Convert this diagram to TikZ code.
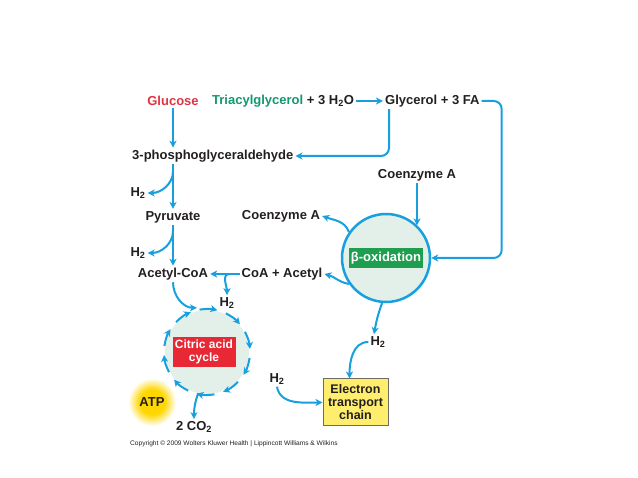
\documentclass[tikz,border=0pt]{standalone}
\usepackage{fontspec}
\setmainfont{Liberation Sans}
\usetikzlibrary{arrows.meta,positioning,calc}

\definecolor{flowcyan}{RGB}{24,160,222}
\definecolor{labelgray}{RGB}{35,31,32}
\definecolor{glured}{RGB}{222,52,68}
\definecolor{taggreen}{RGB}{18,152,112}
\definecolor{poolfill}{RGB}{226,240,233}
\definecolor{boxgreen}{RGB}{30,158,78}
\definecolor{boxred}{RGB}{232,40,52}
\definecolor{etcyellow}{RGB}{255,238,110}
\definecolor{etcborder}{RGB}{110,108,95}
\definecolor{atpyellow}{RGB}{255,215,0}

\pgfdeclareradialshading{sunglow}{\pgfpoint{0bp}{0bp}}{color(0bp)=(atpyellow); color(13bp)=(atpyellow); color(25bp)=(white); color(50bp)=(white)}

\begin{document}
\begin{tikzpicture}[
  x=1pt, y=1pt,
  >={Stealth[length=7pt,width=7pt,inset=2pt]},
  every node/.style={font=\bfseries\fontsize{13}{13.5}\selectfont, text=labelgray, inner sep=2pt},
  flow/.style={draw=flowcyan, line width=2pt, ->},
  pool/.style={circle, fill=poolfill, minimum size=88pt, inner sep=0pt},
  greenbox/.style={fill=boxgreen, text=white, minimum width=68pt, minimum height=20pt},
  redbox/.style={fill=boxred, text=white, align=center, minimum width=63pt, minimum height=30pt,
    font=\bfseries\fontsize{12}{13}\selectfont},
  etcbox/.style={draw=etcborder, line width=1pt, fill=etcyellow, align=center, minimum width=65pt, minimum height=47pt, inner sep=1pt,
    font=\bfseries\fontsize{12.5}{13}\selectfont},
  sun/.style={circle, shading=sunglow, minimum size=48pt, inner sep=0pt},
  node distance=21pt
]
\useasboundingbox (0,0) rectangle (638,478);

% top row
\node[text=glured] (glu) at (173,377) {Glucose};
\node[anchor=west] (tag) at (210,377) {\textcolor{taggreen}{Triacylglycerol} + 3 H\textsubscript{2}O};
\node[anchor=west] (gly) at (383,377) {Glycerol + 3 FA};

% left column
\node[anchor=west] (pga) at (130,322) {3-phosphoglyceraldehyde};
\node (pyr) at (173,261) {Pyruvate};
\node (acoa) at (173,204) {Acetyl-CoA};
\node (h2a) at (138,285) {H\textsubscript{2}};
\node (h2b) at (138,225) {H\textsubscript{2}};

% beta-oxidation
\node (coa2) at (417,303) {Coenzyme A};
\node (coa1) at (281,262) {Coenzyme A};
\node (coaac) at (282,204) {CoA + Acetyl};
\node[pool, draw=flowcyan, line width=2.5pt] (bo) at (386,220) {};
\node[greenbox] (bolbl) at (bo) {β-oxidation};
\node (h2c) at (378,136) {H\textsubscript{2}};
\node (h2e) at (227,175) {H\textsubscript{2}};

% citric acid cycle
\node[pool, minimum size=84pt] (cc) at (207,126) {};
\node[redbox] (cclbl) at (204,126) {Citric acid\\cycle};
\foreach \a in {100,64,...,-224}
  \draw[flow] (cc) ++(\a:43) arc[start angle=\a, delta angle=-24, radius=43pt];
\node[sun] (atp) at (152,76) {ATP};
\node (co2) at (194,51) {2 CO\textsubscript{2}};

% electron transport
\node (h2d) at (277,99) {H\textsubscript{2}};
\node[etcbox] (etc) at (355.5,75.5) {Electron\\transport\\chain};

\node[anchor=west, font=\fontsize{6.6}{7}\selectfont] (copy) at (128,34) {Copyright © 2009 Wolters Kluwer Health | Lippincott Williams \& Wilkins};

% connectors
\draw[flow] (glu.south) -- (glu.south |- pga.north);
\draw[flow] (tag) -- (gly);
\draw[flow, rounded corners=8pt] ([xshift=6pt]gly.south west) |- (pga.east);
\draw[flow, rounded corners=8pt] (gly.east) -- ++(20,0) |- (bo.east);
\draw[flow] (coa2.south) -- (coa2.south |- bo.46);
\draw[flow] (pga.south -| pyr.north) -- (pyr.north);
\draw[flow] ([yshift=-7pt]pga.south -| pyr.north) to[out=-90,in=0] (h2a.east);
\draw[flow] (pyr.south) -- (acoa.north);
\draw[flow] ([yshift=-6pt]pyr.south) to[out=-90,in=0] (h2b.east);
\draw[flow] (coaac.west) -- (acoa.east);
\draw[flow] ([xshift=-10pt]coaac.west) to[out=180,in=90] (h2e.north);
\draw[flow] (acoa.south) to[out=-90,in=180] ([shift={(-10pt,2pt)}]cc.north);
\draw[flow] (bo.145) to[out=110,in=-20] (coa1.east);
\draw[flow] (bo.215) to[out=170,in=-15] (coaac.east);
\draw[flow] (bo.265) to[out=-110,in=80] ([xshift=-4pt]h2c.north);
\draw[flow] (h2c.west) to[out=180,in=90] ([xshift=-6pt]etc.north);
\draw[flow] (h2d.south) to[out=-80,in=180] (etc.west);
\draw[flow] (cc.258) to[out=-110,in=90] (co2.north);
\end{tikzpicture}
\end{document}
